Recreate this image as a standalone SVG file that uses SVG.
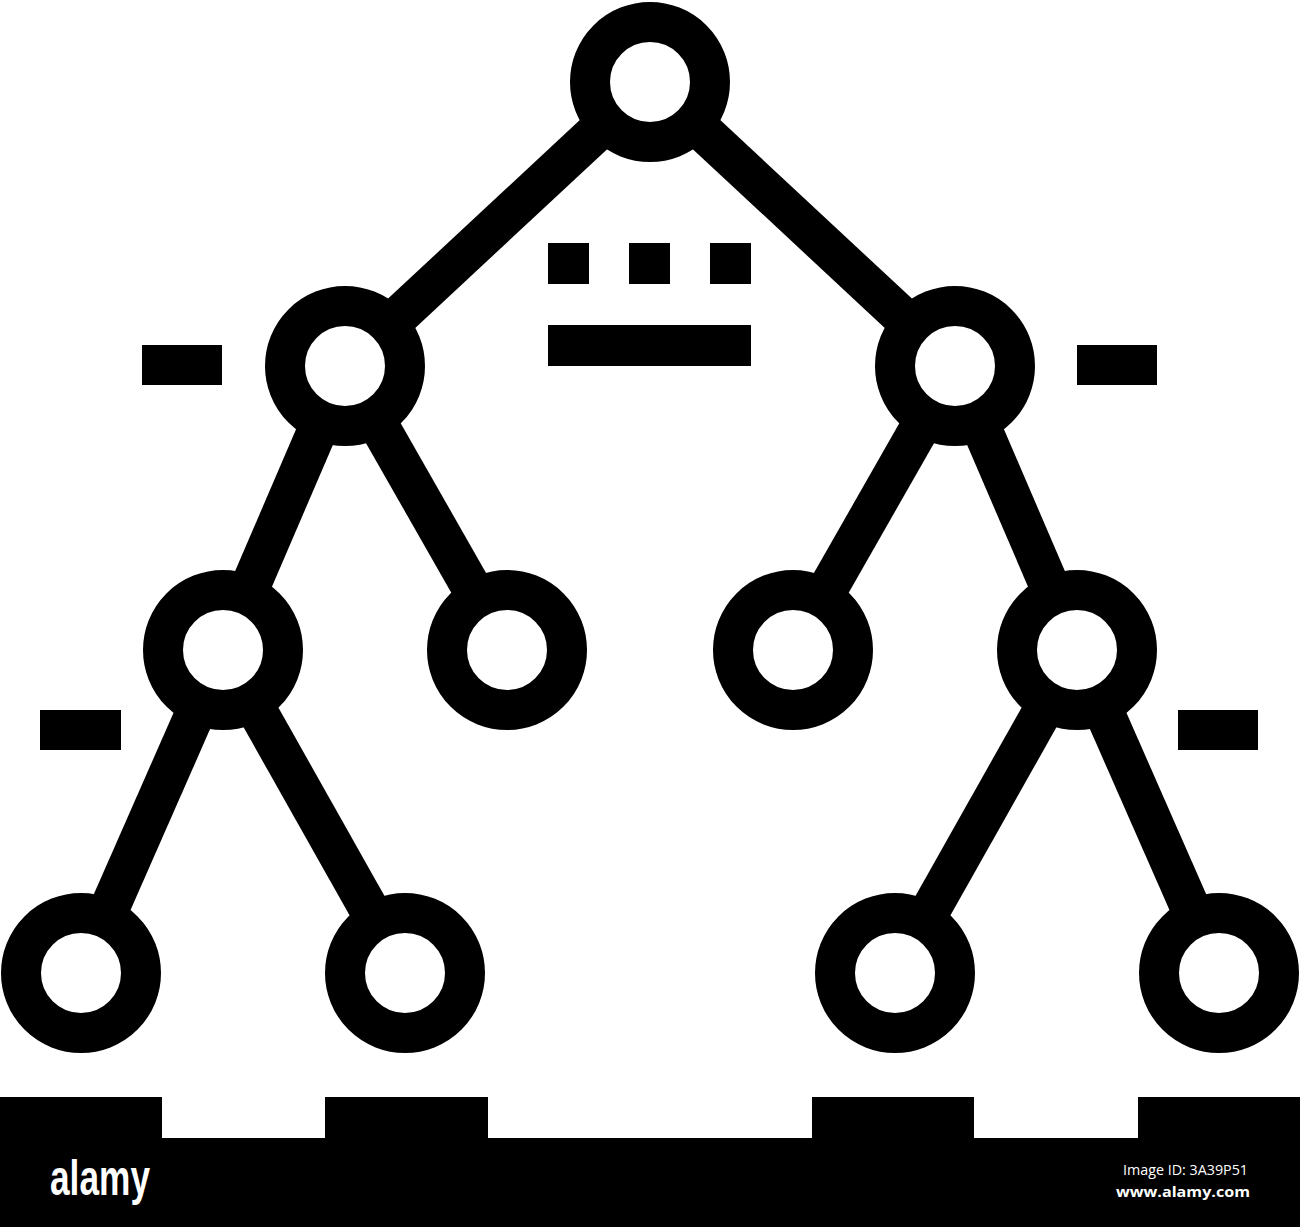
<svg xmlns="http://www.w3.org/2000/svg" width="1300" height="1227" viewBox="0 0 1300 1227">
<style>
.edge{stroke:#000;stroke-width:40;fill:none}
.node{fill:#fff;stroke:#000;stroke-width:40}
.blk{fill:#000}
.wm{fill:#fff;font-family:"Open Sans","Liberation Sans",Arial,sans-serif}
</style>
<rect width="1300" height="1227" fill="#fff"/>
<g id="connectors">
<line class="edge" x1="650" y1="82" x2="345" y2="366"/>
<line class="edge" x1="650" y1="82" x2="955" y2="366"/>
<line class="edge" x1="345" y1="366" x2="223" y2="650"/>
<line class="edge" x1="345" y1="366" x2="507" y2="650"/>
<line class="edge" x1="955" y1="366" x2="793" y2="650"/>
<line class="edge" x1="955" y1="366" x2="1077" y2="650"/>
<line class="edge" x1="223" y1="650" x2="81" y2="973"/>
<line class="edge" x1="223" y1="650" x2="405" y2="973"/>
<line class="edge" x1="1077" y1="650" x2="1219" y2="973"/>
<line class="edge" x1="1077" y1="650" x2="895" y2="973"/>
</g>
<g id="n-root"><circle class="node" cx="650" cy="82" r="60"/></g>
<g id="n-l"><circle class="node" cx="345" cy="366" r="60"/></g>
<g id="n-r"><circle class="node" cx="955" cy="366" r="60"/></g>
<g id="n-ll"><circle class="node" cx="223" cy="650" r="60"/></g>
<g id="n-lr"><circle class="node" cx="507" cy="650" r="60"/></g>
<g id="n-rl"><circle class="node" cx="793" cy="650" r="60"/></g>
<g id="n-rr"><circle class="node" cx="1077" cy="650" r="60"/></g>
<g id="n-lll"><circle class="node" cx="81" cy="973" r="60"/></g>
<g id="n-llr"><circle class="node" cx="405" cy="973" r="60"/></g>
<g id="n-rrl"><circle class="node" cx="895" cy="973" r="60"/></g>
<g id="n-rrr"><circle class="node" cx="1219" cy="973" r="60"/></g>
<g id="marks">
<rect class="blk" x="142" y="345" width="80" height="40"/>
<rect class="blk" x="1077" y="345" width="80" height="40"/>
<rect class="blk" x="40" y="710" width="81" height="40"/>
<rect class="blk" x="1178" y="710" width="80" height="40"/>
<rect class="blk" x="548" y="243" width="41" height="41"/>
<rect class="blk" x="629" y="243" width="41" height="41"/>
<rect class="blk" x="710" y="243" width="41" height="41"/>
<rect class="blk" x="548" y="325" width="203" height="41"/>
<rect class="blk" x="0" y="1097" width="162" height="42"/>
<rect class="blk" x="325" y="1097" width="163" height="42"/>
<rect class="blk" x="812" y="1097" width="162" height="42"/>
<rect class="blk" x="1138" y="1097" width="162" height="42"/>
</g>
<g id="watermark">
<rect class="blk" x="0" y="1138" width="1300" height="89"/>
<text class="wm" x="50" y="1195" font-size="50" font-weight="bold" textLength="100" lengthAdjust="spacingAndGlyphs" style="font-family:'Liberation Sans',Arial,sans-serif">alamy</text>
<text class="wm" x="1123" y="1175" font-size="15" textLength="125" lengthAdjust="spacingAndGlyphs">Image ID: 3A39P51</text>
<text class="wm" x="1116" y="1197" font-size="15" font-weight="bold" textLength="134" lengthAdjust="spacingAndGlyphs">www.alamy.com</text>
</g>
</svg>
